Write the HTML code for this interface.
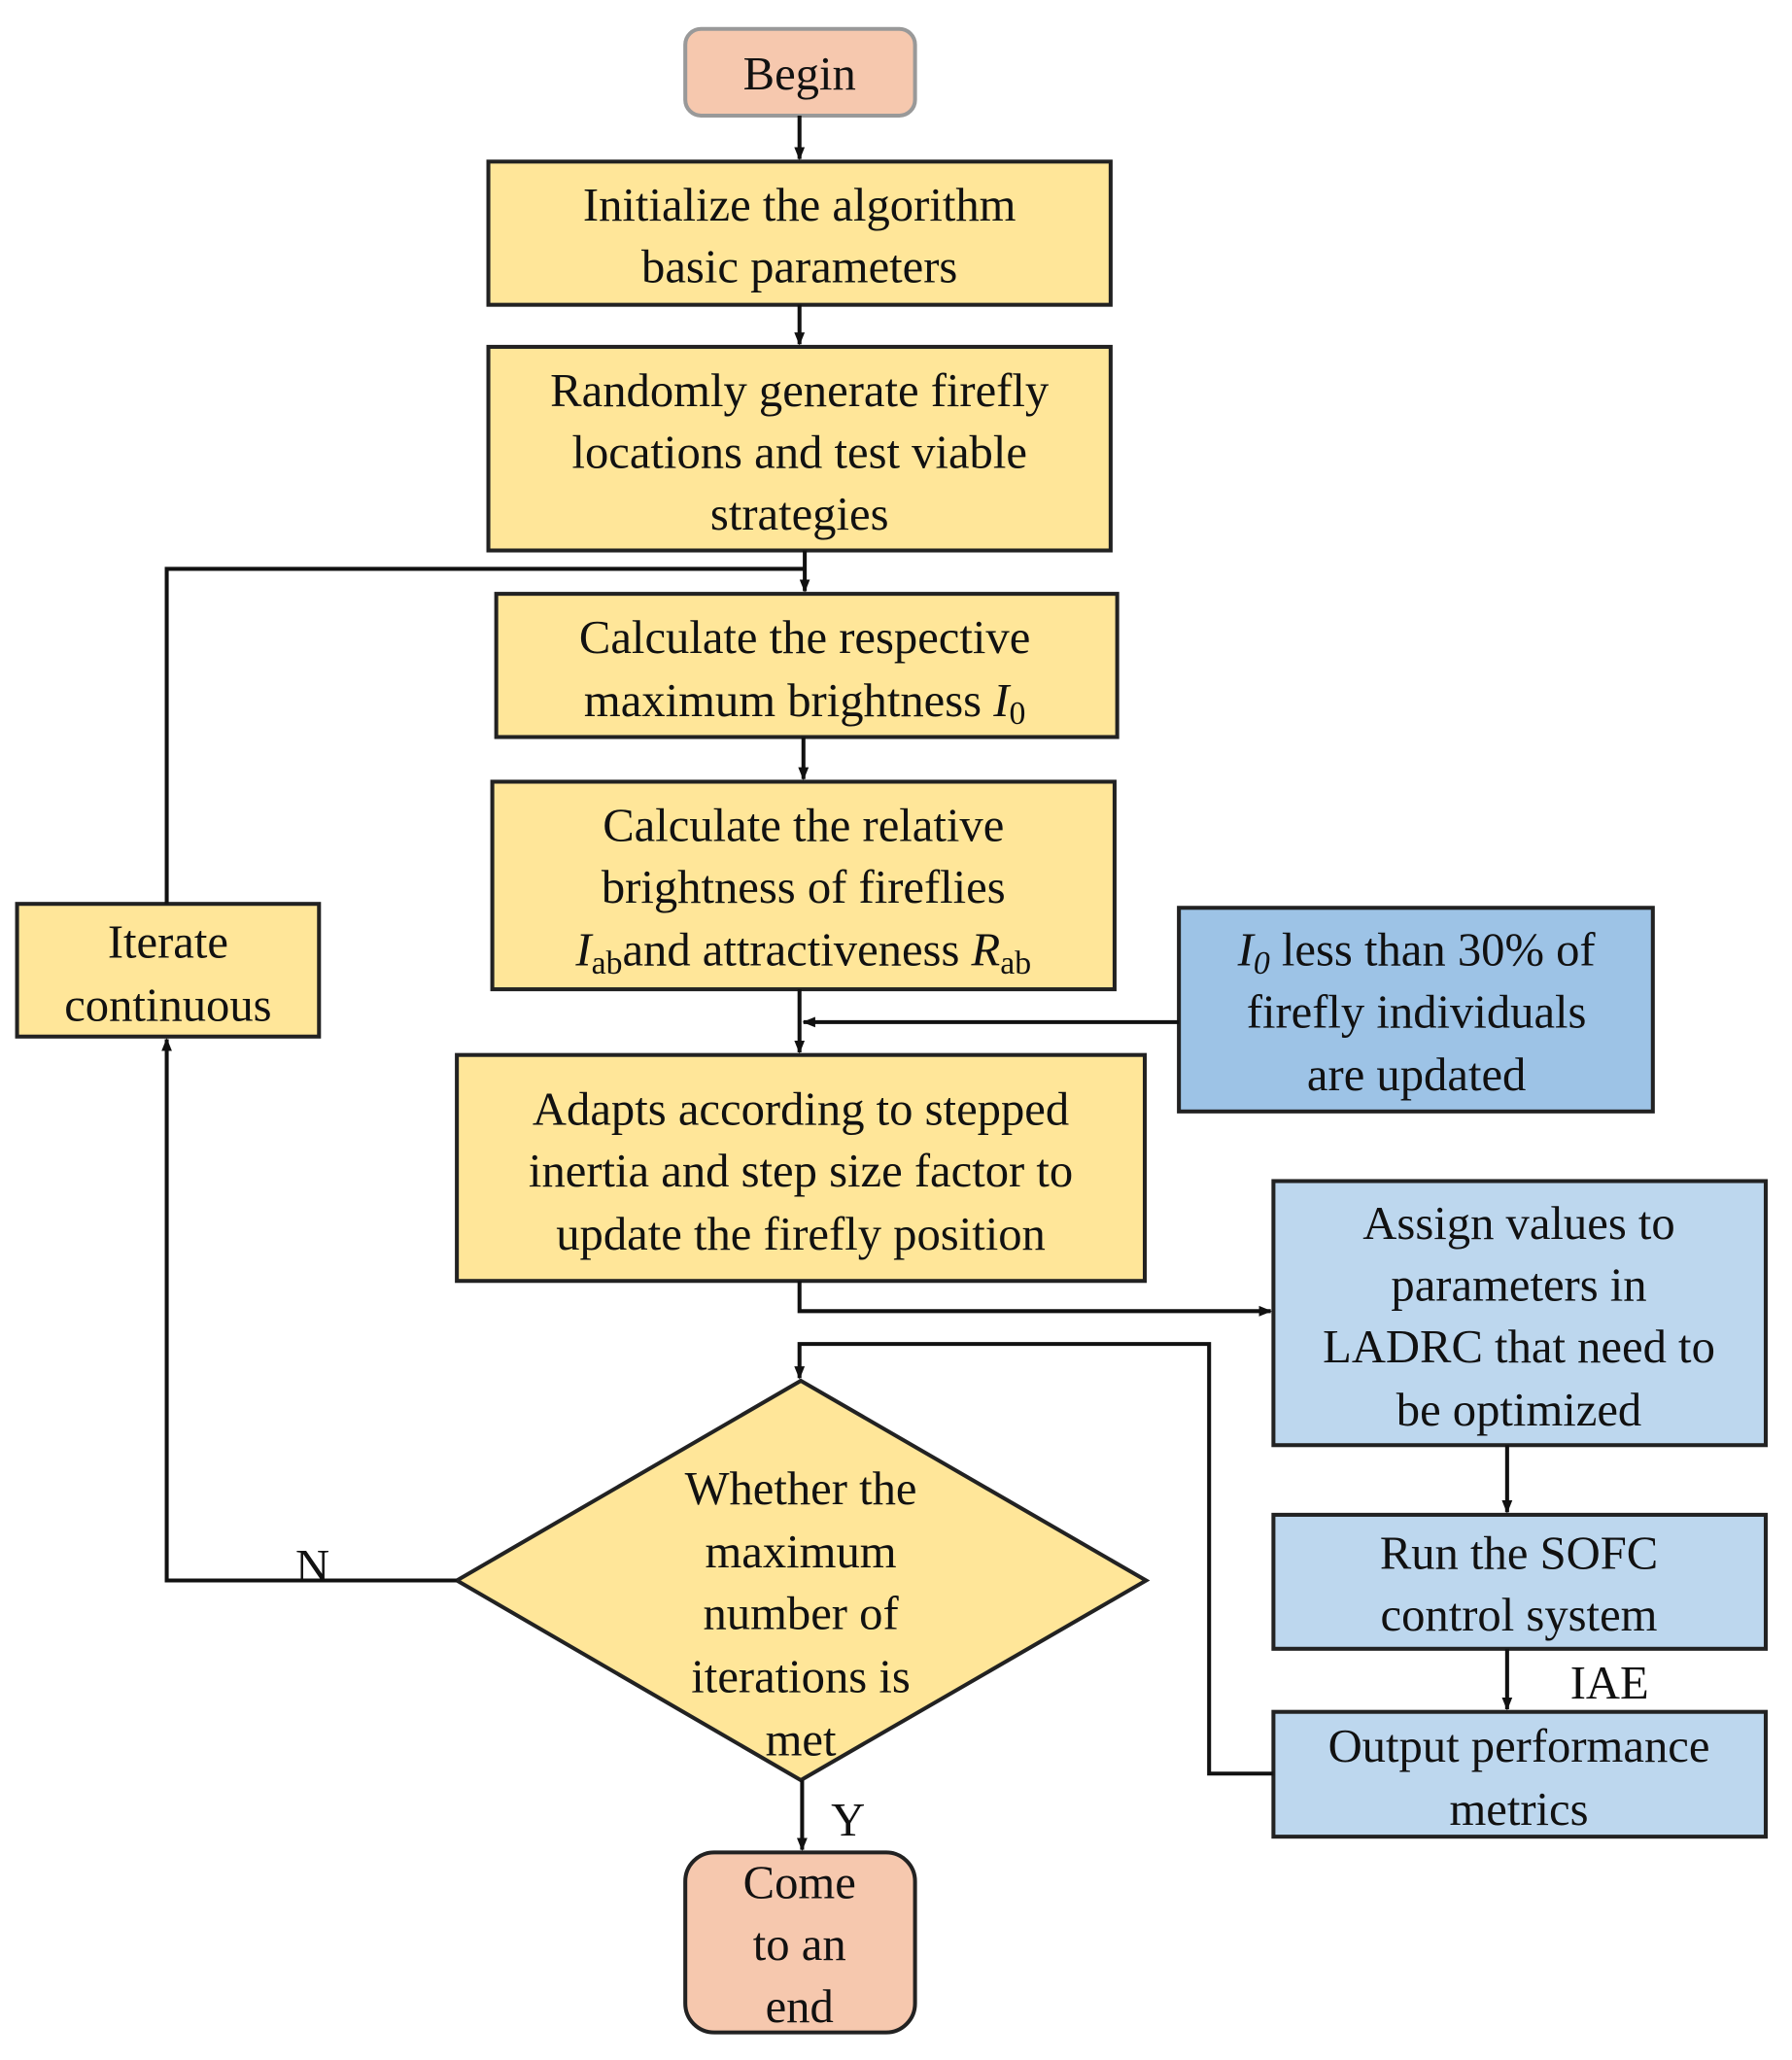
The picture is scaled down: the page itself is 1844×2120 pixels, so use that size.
<!DOCTYPE html>
<html><head><meta charset="utf-8"><style>
html,body{margin:0;padding:0;background:#fff;}
svg{display:block;}
text{font-family:"Liberation Serif","Times New Roman",Times,"DejaVu Serif",serif;font-size:36px;fill:#111;text-anchor:middle;}
</style></head><body>
<svg width="1844" height="2120" viewBox="0 0 1365 1568" preserveAspectRatio="none" xmlns="http://www.w3.org/2000/svg">
<defs><marker id="a" markerWidth="10" markerHeight="10" refX="9" refY="5" orient="auto" markerUnits="userSpaceOnUse"><path d="M0,1 L10,5 L0,9 z" fill="#111"/></marker></defs>
<g stroke="#222" stroke-width="3">
<rect x="522" y="22" width="175" height="66" rx="12" fill="#F6C8AE" stroke="#999"/>
<rect x="372" y="123" width="474" height="109" fill="#FFE699"/>
<rect x="372" y="264" width="474" height="155" fill="#FFE699"/>
<rect x="378" y="452" width="473" height="109" fill="#FFE699"/>
<rect x="375" y="595" width="474" height="158" fill="#FFE699"/>
<rect x="348" y="803" width="524" height="172" fill="#FFE699"/>
<rect x="13" y="688" width="230" height="101" fill="#FFE699"/>
<rect x="898" y="691" width="361" height="155" fill="#9DC3E6"/>
<rect x="970" y="899" width="375" height="201" fill="#BDD7EE"/>
<rect x="970" y="1153" width="375" height="102" fill="#BDD7EE"/>
<rect x="970" y="1303" width="375" height="95" fill="#BDD7EE"/>
<polygon points="610,1051 873,1203 610,1355 348,1203" fill="#FFE699"/>
<rect x="522" y="1410" width="175" height="137" rx="22" fill="#F6C8AE"/>
</g>
<g stroke="#111" stroke-width="3" fill="none">
<path d="M609,88 V121" marker-end="url(#a)"/>
<path d="M609,232 V262" marker-end="url(#a)"/>
<path d="M613,419 V450" marker-end="url(#a)"/>
<path d="M613,433 H127 V688"/>
<path d="M612,561 V593" marker-end="url(#a)"/>
<path d="M609,753 V801" marker-end="url(#a)"/>
<path d="M898,778 H612" marker-end="url(#a)"/>
<path d="M609,975 V998 H968" marker-end="url(#a)"/>
<path d="M970,1350 H921 V1023 H609 V1049" marker-end="url(#a)"/>
<path d="M1148,1100 V1151" marker-end="url(#a)"/>
<path d="M1148,1255 V1301" marker-end="url(#a)"/>
<path d="M348,1203 H127 V791" marker-end="url(#a)"/>
<path d="M611,1355 V1408" marker-end="url(#a)"/>
</g>
<text x="609" y="68">Begin</text>
<text x="609" y="168">Initialize the algorithm</text>
<text x="609" y="215">basic parameters</text>
<text x="609" y="309">Randomly generate firefly</text>
<text x="609" y="356">locations and test viable</text>
<text x="609" y="403">strategies</text>
<text x="613" y="497">Calculate the respective</text>
<text x="613" y="545">maximum brightness <tspan font-style="italic">I</tspan><tspan font-size="25" dy="6">0</tspan></text>
<text x="612" y="640">Calculate the relative</text>
<text x="612" y="687">brightness of fireflies</text>
<text x="612" y="735"><tspan font-style="italic">I</tspan><tspan font-size="25" dy="6">ab</tspan><tspan dy="-6">and attractiveness </tspan><tspan font-style="italic">R</tspan><tspan font-size="25" dy="6">ab</tspan></text>
<text x="610" y="856">Adapts according to stepped</text>
<text x="610" y="903">inertia and step size factor to</text>
<text x="610" y="951">update the firefly position</text>
<text x="128" y="729">Iterate</text>
<text x="128" y="777">continuous</text>
<text x="1079" y="735"><tspan font-style="italic">I</tspan><tspan font-style="italic" font-size="25" dy="6">0</tspan><tspan dy="-6">  less than 30% of</tspan></text>
<text x="1079" y="782">firefly individuals</text>
<text x="1079" y="830">are updated</text>
<text x="1157" y="943">Assign values to</text>
<text x="1157" y="990">parameters in</text>
<text x="1157" y="1037">LADRC that need to</text>
<text x="1157" y="1085">be optimized</text>
<text x="1157" y="1194">Run the SOFC</text>
<text x="1157" y="1241">control system</text>
<text x="1226" y="1293">IAE</text>
<text x="1157" y="1341">Output performance</text>
<text x="1157" y="1389">metrics</text>
<text x="610" y="1145">Whether the</text>
<text x="610" y="1193">maximum</text>
<text x="610" y="1240">number of</text>
<text x="610" y="1288">iterations is</text>
<text x="610" y="1336">met</text>
<text x="238" y="1204">N</text>
<text x="646" y="1397">Y</text>
<text x="609" y="1445">Come</text>
<text x="609" y="1492">to an</text>
<text x="609" y="1539">end</text>
</svg>
</body></html>
